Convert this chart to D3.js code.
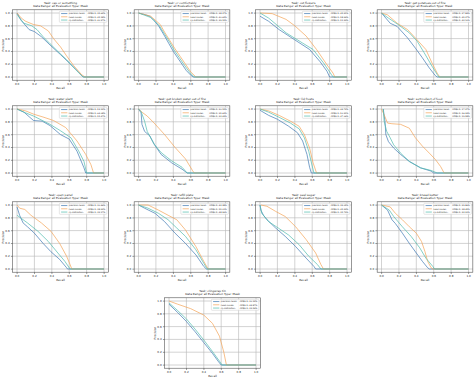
<!DOCTYPE html>
<html><head><meta charset="utf-8">
<script src="https://cdn.jsdelivr.net/npm/d3@7"></script>
<style>html,body{margin:0;padding:0;background:#fff;} svg{display:block;} text{font-family:"DejaVu Sans",sans-serif;fill:#222;}</style>
</head><body>
<svg id="c" width="474" height="379"></svg>
<script>
const taskTitles = ["Task: cap or something","Task: cr comfortably","Task: cut flowers","Task: get potatoes out of fire",
  "Task: water plant","Task: get broken water out of fire","Task: lid frosts","Task: sort/collect of food",
  "Task: open panel","Task: refill plate","Task: peel sugar","Task: knead butter","Task: clingwrap tin"];
const subtitle = "Data Range: all  Evaluation Type: Mask";
const seriesNames = ["precision head:", "head model:", "cp distillation:"];
const seriesColors = ["#3f78b3", "#f3a456", "#4fbcae"];
const apPrecisionHead = ["35.62","38.37","45.21","37.84","53.12","20.15","44.72","17.27","30.46","42.38","32.05","29.86","30.12"];
const apHeadModel     = ["45.18","40.62","58.94","45.27","64.08","35.62","50.31","36.24","38.92","55.01","45.33","38.45","44.87"];
const apCpDistill     = ["40.27","39.15","51.33","42.10","55.47","22.43","47.06","19.58","32.17","48.26","35.79","32.91","33.54"];
const xTicks = [0, 0.2, 0.4, 0.6, 0.8, 1.0];
const yTicks = [0, 0.2, 0.4, 0.6, 0.8, 1.0];

// [recall, precision]
const p1Head = [[0,1],[0.05,0.88],[0.14,0.74],[0.2,0.71],[0.28,0.63],[0.38,0.5],[0.5,0.35],[0.6,0.22],[0.7,0.09],[0.76,0],[1,0]];
const p1Model = [[0,1],[0.05,0.92],[0.1,0.87],[0.19,0.82],[0.27,0.8],[0.36,0.72],[0.42,0.6],[0.5,0.47],[0.57,0.33],[0.65,0.18],[0.74,0.04],[0.78,0],[1,0]];
const p1Distill = [[0,0.98],[0.03,0.92],[0.08,0.84],[0.17,0.8],[0.23,0.74],[0.3,0.63],[0.38,0.52],[0.47,0.4],[0.57,0.27],[0.67,0.12],[0.75,0.01],[0.77,0],[1,0]];

const p2Head = [[0,1],[0.06,0.98],[0.13,0.95],[0.18,0.88],[0.23,0.8],[0.3,0.64],[0.35,0.52],[0.4,0.4],[0.45,0.3],[0.5,0.2],[0.55,0.1],[0.6,0.03],[0.63,0],[1,0]];
const p2Model = [[0,1],[0.06,0.98],[0.14,0.95],[0.2,0.88],[0.25,0.82],[0.3,0.7],[0.36,0.57],[0.42,0.44],[0.48,0.32],[0.54,0.2],[0.6,0.08],[0.66,0],[1,0]];
const p2Distill = [[0,1],[0.06,0.97],[0.14,0.93],[0.19,0.87],[0.24,0.8],[0.3,0.67],[0.36,0.54],[0.41,0.42],[0.47,0.3],[0.53,0.18],[0.59,0.07],[0.64,0],[1,0]];

const p3Head = [[0,0.95],[0.1,0.87],[0.22,0.74],[0.4,0.58],[0.57,0.43],[0.69,0.24],[0.77,0.09],[0.8,0],[1,0]];
const p3Model = [[0,1],[0.14,0.99],[0.3,0.9],[0.4,0.8],[0.53,0.64],[0.65,0.43],[0.77,0.19],[0.84,0.06],[0.86,0],[1,0]];
const p3Distill = [[0,1],[0.1,0.92],[0.3,0.69],[0.49,0.53],[0.61,0.43],[0.73,0.22],[0.82,0.04],[0.84,0],[1,0]];

const p4Head = [[0,1],[0.05,0.92],[0.1,0.84],[0.18,0.79],[0.3,0.61],[0.39,0.45],[0.47,0.3],[0.55,0.14],[0.62,0.02],[0.64,0],[1,0]];
const p4Model = [[0,1],[0.07,0.97],[0.18,0.84],[0.3,0.74],[0.41,0.58],[0.51,0.43],[0.58,0.22],[0.64,0.06],[0.67,0],[1,0]];
const p4Distill = [[0,1],[0.08,0.92],[0.18,0.83],[0.32,0.69],[0.41,0.56],[0.49,0.38],[0.58,0.17],[0.64,0.04],[0.66,0],[1,0]];

const p5Head = [[0,1],[0.08,0.95],[0.19,0.82],[0.29,0.81],[0.38,0.74],[0.5,0.6],[0.6,0.53],[0.69,0.34],[0.77,0.08],[0.79,0],[1,0]];
const p5Model = [[0,1],[0.1,0.97],[0.19,0.92],[0.31,0.87],[0.42,0.82],[0.56,0.71],[0.69,0.5],[0.79,0.29],[0.85,0.13],[0.88,0],[1,0]];
const p5Distill = [[0,1],[0.08,0.95],[0.19,0.89],[0.38,0.76],[0.5,0.66],[0.62,0.55],[0.71,0.34],[0.77,0.18],[0.8,0],[1,0]];

const p6Head = [[0,1],[0.03,0.94],[0.04,0.76],[0.07,0.65],[0.13,0.58],[0.18,0.45],[0.26,0.29],[0.38,0.16],[0.5,0.06],[0.56,0],[1,0]];
const p6Model = [[0,1],[0.05,0.94],[0.1,0.89],[0.18,0.78],[0.3,0.6],[0.42,0.4],[0.54,0.22],[0.62,0.04],[0.64,0],[1,0]];
const p6Distill = [[0,1],[0.03,0.96],[0.07,0.81],[0.1,0.65],[0.18,0.45],[0.26,0.32],[0.38,0.19],[0.5,0.09],[0.56,0],[1,0]];

const p7Head = [[0,0.98],[0.1,0.9],[0.2,0.84],[0.33,0.73],[0.43,0.63],[0.49,0.5],[0.54,0.29],[0.57,0.09],[0.59,0],[1,0]];
const p7Model = [[0,1],[0.1,0.97],[0.22,0.9],[0.35,0.81],[0.45,0.73],[0.51,0.6],[0.57,0.39],[0.61,0.16],[0.65,0],[1,0]];
const p7Distill = [[0,1],[0.1,0.95],[0.22,0.87],[0.35,0.78],[0.45,0.69],[0.51,0.55],[0.56,0.34],[0.6,0.11],[0.62,0],[1,0]];

const p8Head = [[0.02,1],[0.04,0.81],[0.05,0.6],[0.08,0.49],[0.14,0.39],[0.22,0.29],[0.32,0.18],[0.45,0.08],[0.57,0.03],[0.6,0],[1,0]];
const p8Model = [[0,1],[0.03,0.91],[0.07,0.78],[0.12,0.77],[0.22,0.76],[0.32,0.7],[0.39,0.55],[0.47,0.42],[0.55,0.31],[0.62,0.21],[0.68,0.1],[0.72,0],[1,0]];
const p8Distill = [[0.02,1],[0.03,0.81],[0.06,0.65],[0.1,0.55],[0.14,0.44],[0.22,0.31],[0.32,0.18],[0.45,0.08],[0.57,0.04],[0.64,0],[1,0]];

const p9Head = [[0,0.97],[0.03,0.84],[0.07,0.72],[0.12,0.66],[0.2,0.56],[0.3,0.4],[0.39,0.27],[0.49,0.15],[0.57,0.02],[0.58,0],[1,0]];
const p9Model = [[0,1],[0.03,0.95],[0.09,0.93],[0.16,0.84],[0.28,0.72],[0.39,0.59],[0.49,0.4],[0.57,0.2],[0.61,0.07],[0.63,0],[1,0]];
const p9Distill = [[0,0.84],[0.05,0.79],[0.12,0.72],[0.24,0.59],[0.36,0.43],[0.47,0.25],[0.55,0.12],[0.61,0],[1,0]];

const p10Head = [[0,1],[0.07,0.95],[0.19,0.87],[0.3,0.74],[0.42,0.56],[0.54,0.4],[0.66,0.22],[0.75,0.04],[0.78,0],[1,0]];
const p10Model = [[0,1],[0.11,1],[0.23,0.92],[0.34,0.84],[0.44,0.77],[0.54,0.61],[0.66,0.35],[0.75,0.12],[0.8,0],[1,0]];
const p10Distill = [[0,1],[0.11,0.95],[0.23,0.87],[0.34,0.77],[0.44,0.64],[0.54,0.51],[0.66,0.3],[0.75,0.09],[0.79,0],[1,0]];

const p11Head = [[0,1],[0.01,0.92],[0.04,0.84],[0.08,0.77],[0.18,0.64],[0.29,0.51],[0.41,0.35],[0.53,0.17],[0.62,0.04],[0.64,0],[1,0]];
const p11Model = [[0.01,1],[0.08,0.98],[0.18,0.9],[0.29,0.82],[0.41,0.66],[0.53,0.46],[0.64,0.25],[0.7,0.07],[0.73,0],[1,0]];
const p11Distill = [[0,1],[0.02,0.87],[0.1,0.74],[0.21,0.64],[0.33,0.53],[0.45,0.38],[0.56,0.2],[0.66,0.07],[0.7,0],[1,0]];

const p12Head = [[0,1],[0.07,0.92],[0.12,0.77],[0.16,0.71],[0.24,0.56],[0.32,0.4],[0.4,0.25],[0.47,0.12],[0.53,0.02],[0.55,0],[1,0]];
const p12Model = [[0,1],[0.1,0.97],[0.16,0.87],[0.24,0.77],[0.32,0.66],[0.4,0.56],[0.46,0.43],[0.5,0.27],[0.53,0.12],[0.57,0.02],[0.59,0],[1,0]];
const p12Distill = [[0,1],[0.09,0.92],[0.14,0.82],[0.24,0.66],[0.34,0.51],[0.44,0.33],[0.51,0.17],[0.59,0.04],[0.61,0],[1,0]];

const p13Head = [[0,0.95],[0.1,0.82],[0.2,0.68],[0.3,0.52],[0.4,0.35],[0.5,0.18],[0.57,0.05],[0.6,0],[1,0]];
const p13Model = [[0,1],[0.1,0.95],[0.25,0.88],[0.4,0.78],[0.5,0.65],[0.58,0.45],[0.63,0.2],[0.66,0],[1,0]];
const p13Distill = [[0,0.97],[0.1,0.85],[0.2,0.72],[0.3,0.56],[0.4,0.39],[0.5,0.21],[0.58,0.06],[0.61,0],[1,0]];

const panelSeries = [
  [p1Head,p1Model,p1Distill],[p2Head,p2Model,p2Distill],[p3Head,p3Model,p3Distill],[p4Head,p4Model,p4Distill],
  [p5Head,p5Model,p5Distill],[p6Head,p6Model,p6Distill],[p7Head,p7Model,p7Distill],[p8Head,p8Model,p8Distill],
  [p9Head,p9Model,p9Distill],[p10Head,p10Model,p10Distill],[p11Head,p11Model,p11Distill],[p12Head,p12Model,p12Distill],
  [p13Head,p13Model,p13Distill]];

const svg = d3.select("#c");
const S = 4; // virtual scale
const x = d3.scaleLinear().domain([0,1]).range([68,416]);
const y = d3.scaleLinear().domain([0,1]).range([308,52]);
const bx0 = x(-0.05), bx1 = x(1.05), by0 = y(-0.05), by1 = y(1.05);
const line = d3.line().x(d=>x(d[0])).y(d=>y(d[1]));

function drawPanel(i, ox, oy){
  const g = svg.append("g").attr("transform", `translate(${ox},${oy}) scale(${1/S})`);
  g.append("g").selectAll("line").data(xTicks).join("line")
    .attr("x1",d=>x(d)).attr("x2",d=>x(d)).attr("y1",by1).attr("y2",by0)
    .attr("stroke","#b8b8b8").attr("stroke-width",2.5);
  g.append("g").selectAll("line").data(yTicks).join("line")
    .attr("y1",d=>y(d)).attr("y2",d=>y(d)).attr("x1",bx0).attr("x2",bx1)
    .attr("stroke","#b8b8b8").attr("stroke-width",2.5);
  panelSeries[i].forEach((s,k)=>{
    g.append("path").datum(s).attr("d",line).attr("fill","none")
      .attr("stroke",seriesColors[k]).attr("stroke-width",2.8).attr("stroke-linejoin","round");
  });
  g.append("rect").attr("x",bx0).attr("y",by1).attr("width",bx1-bx0).attr("height",by0-by1)
    .attr("fill","none").attr("stroke","#444").attr("stroke-width",2.2);
  const ax = g.append("g").attr("transform",`translate(0,${by0})`)
    .call(d3.axisBottom(x).tickValues(xTicks).tickFormat(d3.format(".1f")).tickSize(7).tickPadding(5));
  const ay = g.append("g").attr("transform",`translate(${bx0},0)`)
    .call(d3.axisLeft(y).tickValues(yTicks).tickFormat(d3.format(".1f")).tickSize(7).tickPadding(5));
  [ax,ay].forEach(a=>{
    a.select(".domain").remove();
    a.selectAll("line").attr("stroke","#444").attr("stroke-width",2.2);
    a.selectAll("text").attr("font-size",11).attr("font-family","DejaVu Sans").attr("fill","#222");
  });
  g.append("text").attr("x",x(0.5)).attr("y",15).attr("text-anchor","middle").attr("font-size",11.5).text(taskTitles[i]);
  g.append("text").attr("x",x(0.5)).attr("y",27).attr("text-anchor","middle").attr("font-size",11.5).text(subtitle);
  g.append("text").attr("x",x(0.5)).attr("y",356).attr("text-anchor","middle").attr("font-size",11.5).text("Recall");
  g.append("text").attr("transform",`translate(16,${y(0.5)}) rotate(-90)`).attr("text-anchor","middle").attr("font-size",11.5).text("Precision");
  const lw = 190, lh = 44;
  const lx = bx1 - 6 - lw, ly = by1 + 6;
  const lg = g.append("g");
  lg.append("rect").attr("x",lx).attr("y",ly).attr("width",lw).attr("height",lh).attr("rx",3)
    .attr("fill","#fff").attr("fill-opacity",0.85).attr("stroke","#ccc").attr("stroke-width",2);
  const aps = [apPrecisionHead[i], apHeadModel[i], apCpDistill[i]];
  seriesNames.forEach((n,k)=>{
    const yy = ly + 9 + k*13;
    lg.append("line").attr("x1",lx+7).attr("x2",lx+32).attr("y1",yy).attr("y2",yy)
      .attr("stroke",seriesColors[k]).attr("stroke-width",2.8);
    lg.append("text").attr("x",lx+38).attr("y",yy+3).attr("font-size",8.5).text(n);
    lg.append("text").attr("x",lx+lw-6).attr("y",yy+3).attr("text-anchor","end").attr("font-size",8.5).text(`AP@0.5: ${aps[k]}%`);
  });
}

for (let i=0;i<12;i++){
  drawPanel(i, (i%4)*121.5, Math.floor(i/4)*96);
}
drawPanel(12, 152, 288);
</script>
</body></html>
